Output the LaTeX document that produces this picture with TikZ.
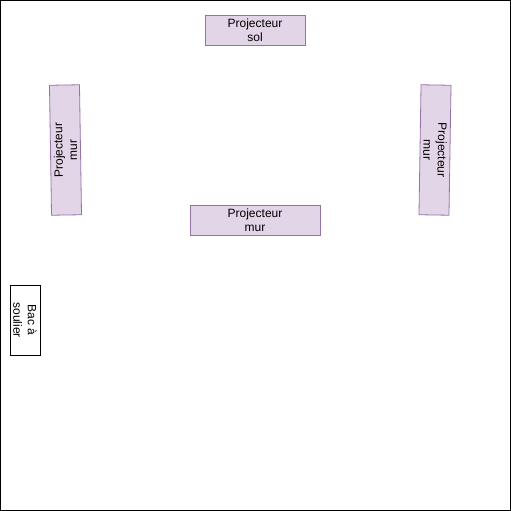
\documentclass[tikz,border=0pt]{standalone}
\usepackage{fontspec}
\setmainfont{Liberation Sans}
\definecolor{pfill}{HTML}{E1D5E7}
\definecolor{pdraw}{HTML}{9673A6}
\begin{document}
\begin{tikzpicture}[x=1pt,y=-1pt,
  proj/.style={draw=pdraw,fill=pfill,line width=0.8pt,inner sep=0pt,align=center,font=\fontsize{12}{14.5}\selectfont},
  bac/.style={draw=black,fill=white,line width=0.8pt,inner sep=0pt,align=center,font=\fontsize{12}{14.5}\selectfont}]
\useasboundingbox (0,0) rectangle (511,511);
\draw[line width=1pt] (0.5,0.5) rectangle (510,510);
\node[proj,minimum width=100pt,minimum height=30pt] (sol) at (255,30) {Projecteur\\sol};
\node[proj,minimum width=130pt,minimum height=30pt] (centre) at (255,220) {Projecteur\\mur};
\node[proj,minimum width=130pt,minimum height=30pt,rotate=90.9] (gauche) at (65.5,150) {Projecteur\\mur};
\node[proj,minimum width=130pt,minimum height=30pt,rotate=-90.9] (droite) at (435,150) {Projecteur\\mur};
\node[bac,minimum width=70pt,minimum height=30pt,rotate=-90] (bac) at (25,320) {Bac à\\soulier};
\end{tikzpicture}
\end{document}
